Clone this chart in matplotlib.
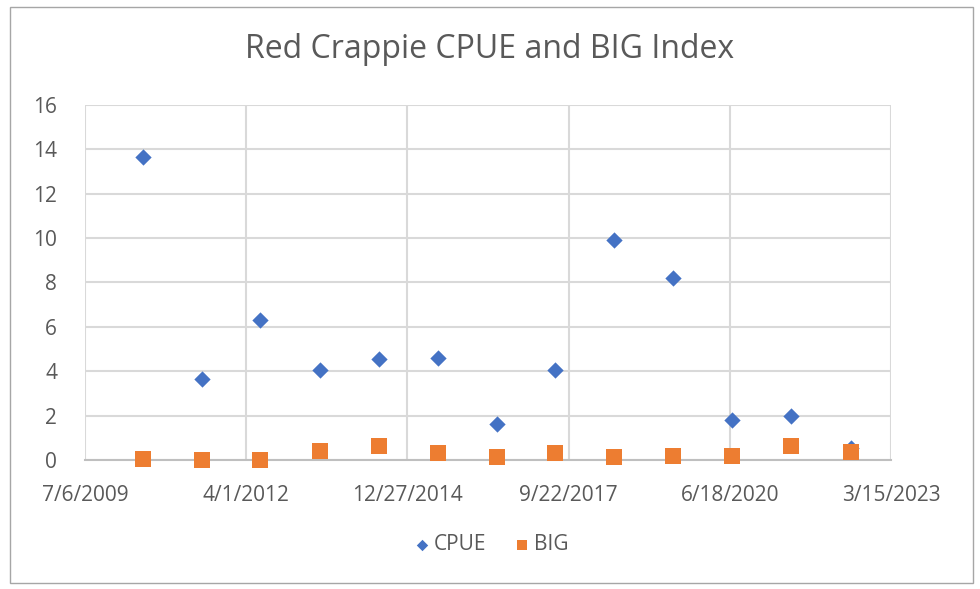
import matplotlib
matplotlib.use("Agg")
import matplotlib.pyplot as plt
from matplotlib.patches import Rectangle
import pandas as pd

# ---- data ----
sample_dates = ["2010-06-28", "2011-06-29", "2012-06-27", "2013-07-01", "2014-07-03",
                "2015-07-03", "2016-07-05", "2017-07-01", "2018-07-03", "2019-07-03",
                "2020-07-03", "2021-07-05", "2022-07-07"]
cpue = [13.66, 3.63, 6.31, 4.05, 4.53, 4.58, 1.62, 4.05, 9.91, 8.21, 1.80, 1.98, 0.55]
big = [0.06, 0.0, 0.02, 0.40, 0.65, 0.30, 0.12, 0.30, 0.12, 0.18, 0.18, 0.64, 0.35]
tick_dates = ["2009-07-06", "2012-04-01", "2014-12-27", "2017-09-22", "2020-06-18", "2023-03-15"]
tick_labels = ["7/6/2009", "4/1/2012", "12/27/2014", "9/22/2017", "6/18/2020", "3/15/2023"]
y_ticks = [0, 2, 4, 6, 8, 10, 12, 14, 16]
title = "Red Crappie CPUE and BIG Index"

plt.rcParams['font.family'] = ['Open Sans', 'DejaVu Sans']
text_color = "#595959"
grid_color = "#d9d9d9"

W, H = 980, 589
fig = plt.figure(figsize=(W / 100, H / 100), dpi=100)
fig.patch.set_facecolor("white")

# outer border
fig.patches.append(Rectangle((10 / W, 1 - 583 / H), 963 / W, 576 / H,
                             transform=fig.transFigure, fill=False,
                             edgecolor="#a6a6a6", linewidth=1.0))

left, right, top, bottom = 85, 891, 104.7, 460
ax = fig.add_axes([left / W, 1 - bottom / H, (right - left) / W, (bottom - top) / H])

x = pd.to_datetime(sample_dates)
ticks = pd.to_datetime(tick_dates)

ax.scatter(x, cpue, marker="D", s=8.3 ** 2, color="#4472C4", label="CPUE", zorder=3,
           linewidths=0, clip_on=False)
ax.scatter(x, big, marker="s", s=11.0 ** 2, color="#ED7D31", label="BIG", zorder=4,
           linewidths=0, clip_on=False)

ax.set_xlim(ticks[0], ticks[-1])
ax.set_ylim(0, 16)
ax.set_xticks(ticks)
ax.set_xticklabels(tick_labels)
ax.set_yticks(y_ticks)
ax.set_yticklabels([str(v) for v in y_ticks])

ax.grid(True, color=grid_color, linewidth=1.5, zorder=0)
ax.set_axisbelow(True)
for s in ["top", "right", "left"]:
    ax.spines[s].set_visible(False)
ax.spines["bottom"].set_color("#bfbfbf")
ax.spines["bottom"].set_linewidth(1.5)
ax.spines["bottom"].set_zorder(2)
ax.tick_params(axis="both", length=0, colors=text_color, labelsize=15)
ax.tick_params(axis="y", pad=20)
ax.tick_params(axis="x", pad=18)

fig.text(0.5, 1 - 50 / H, title, ha="center", va="center", fontsize=23, color=text_color)

leg = fig.legend(loc="center", bbox_to_anchor=(0.5, 1 - 545 / H), ncol=2, frameon=False,
                 fontsize=15, labelcolor=text_color, handletextpad=0.1, columnspacing=1.2,
                 markerscale=0.7, handlelength=1.0)

fig.savefig("out.png", dpi=100, facecolor="white")
